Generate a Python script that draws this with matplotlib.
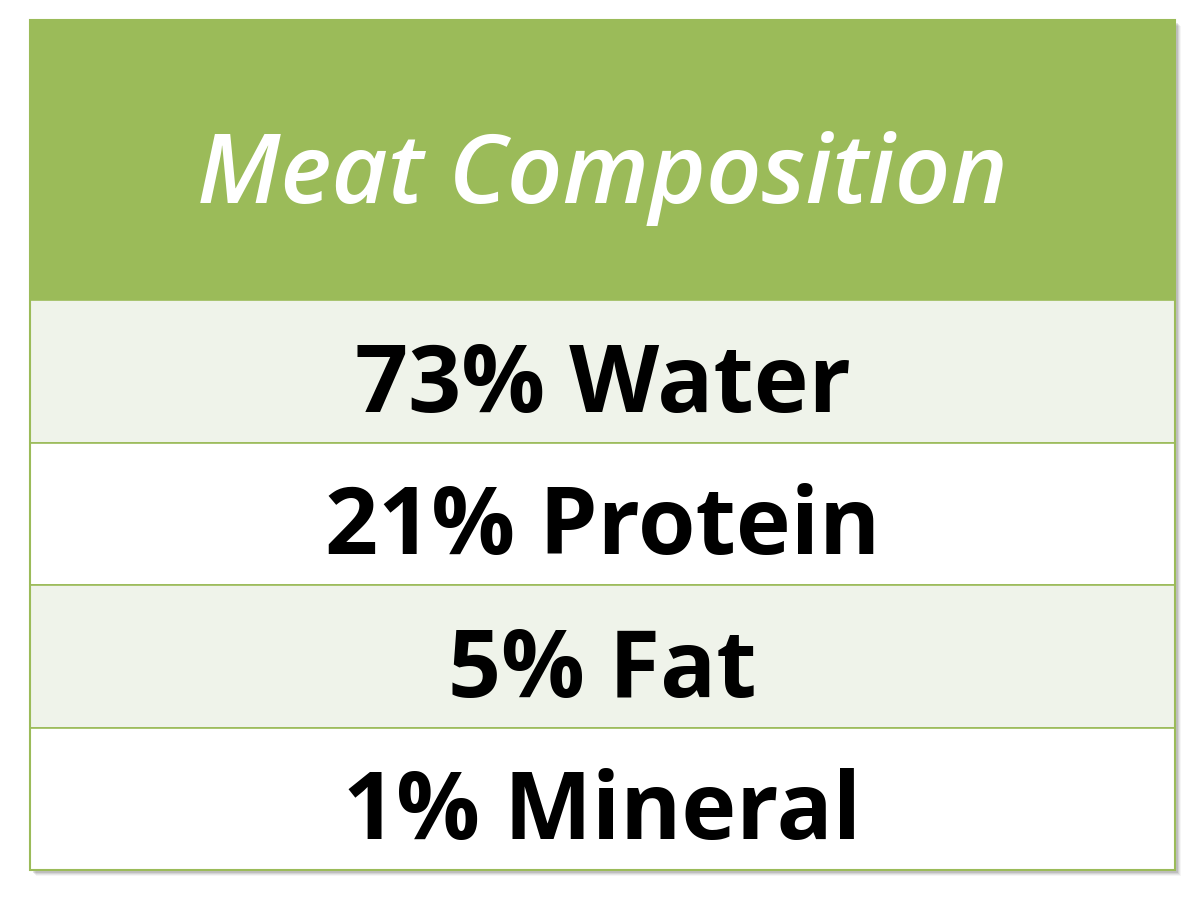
import matplotlib.pyplot as plt
from matplotlib.patches import Rectangle

title = 'Meat Composition'
percents = [73, 21, 5, 1]
components = ['Water', 'Protein', 'Fat', 'Mineral']

green = '#9BBB59'
row_colors = ['#EFF3EA', '#FFFFFF']

fig = plt.figure(figsize=(12, 9), dpi=100)
ax = fig.add_axes([0, 0, 1, 1])
ax.set_xlim(0, 1200)
ax.set_ylim(900, 0)
ax.axis('off')

left, right, top, head_h, row_h = 30, 1175, 20, 280, 142.5
width = right - left
total_h = head_h + row_h * len(components)

# drop shadow
for i, a in enumerate([0.10, 0.08, 0.06, 0.04]):
    ax.add_patch(Rectangle((left + 3 + i, top + 3 + i), width, total_h,
                           facecolor='black', alpha=a, lw=0, zorder=1))

ax.add_patch(Rectangle((left, top), width, head_h, facecolor=green, lw=0, zorder=2))
ax.text((left + right) / 2, top + head_h / 2 + 18, title, color='white', fontsize=70,
        fontstyle='italic', fontweight='semibold', family='Open Sans',
        ha='center', va='center', zorder=3)

for i, (p, c) in enumerate(zip(percents, components)):
    y0 = top + head_h + i * row_h
    ax.add_patch(Rectangle((left, y0), width, row_h, facecolor=row_colors[i % 2],
                           edgecolor=green, lw=1.2, zorder=2))
    ax.text((left + right) / 2, y0 + row_h / 2 + 16, f'{p}% {c}', color='black',
            fontsize=67, fontweight='bold', family='Open Sans',
            ha='center', va='center', zorder=3)

ax.add_patch(Rectangle((left, top), width, total_h, facecolor='none',
                       edgecolor=green, lw=1.5, zorder=4))

fig.savefig('out.png', dpi=100)
